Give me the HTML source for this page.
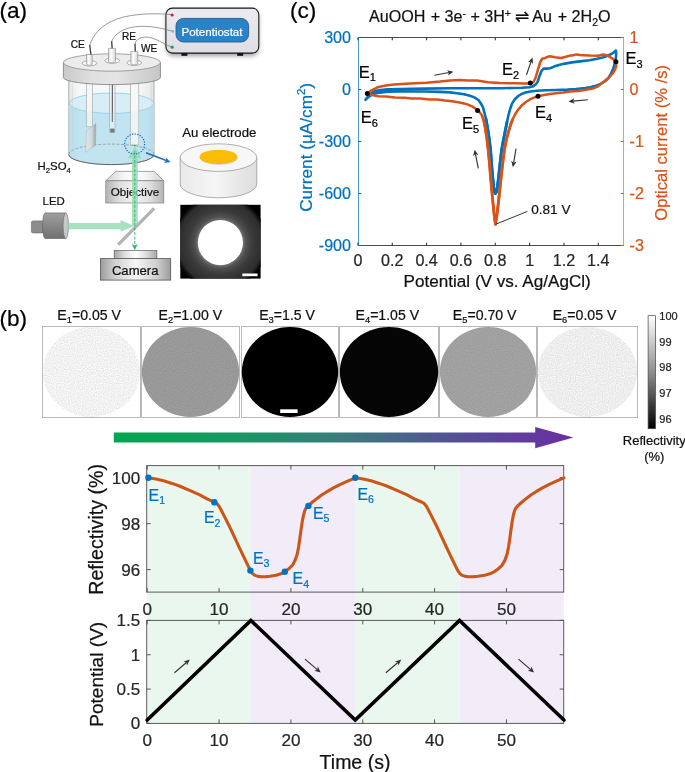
<!DOCTYPE html>
<html lang="en">
<head>
<meta charset="utf-8">
<title>Figure</title>
<style>
html,body{margin:0;padding:0;background:#fff;}
body{width:685px;height:772px;overflow:hidden;position:relative;}
svg{position:absolute;left:0;top:0;display:block;}
text{font-family:"Liberation Sans","DejaVu Sans",sans-serif;}
</style>
</head>
<body>
<svg width="685" height="772" viewBox="0 0 685 772">
<rect x="0" y="0" width="685" height="772" fill="#ffffff"/>
<g id="panel-a">
<defs>
<linearGradient id="lidSide" x1="0" y1="0" x2="1" y2="0"><stop offset="0" stop-color="#cacaca"/><stop offset="0.3" stop-color="#e0e0e0"/><stop offset="0.55" stop-color="#e4e4e4"/><stop offset="1" stop-color="#c6c6c6"/></linearGradient>
<linearGradient id="glass" x1="0" y1="0" x2="1" y2="0"><stop offset="0" stop-color="#e6e9ea"/><stop offset="0.12" stop-color="#f7f8f8"/><stop offset="0.85" stop-color="#f5f6f6"/><stop offset="1" stop-color="#e2e5e6"/></linearGradient>
<linearGradient id="water" x1="0" y1="0" x2="1" y2="0"><stop offset="0" stop-color="#b9deee"/><stop offset="0.15" stop-color="#c4e5f2"/><stop offset="0.85" stop-color="#c2e4f1"/><stop offset="1" stop-color="#b6dced"/></linearGradient>
<linearGradient id="tube" x1="0" y1="0" x2="1" y2="0"><stop offset="0" stop-color="#dcdcdc"/><stop offset="0.4" stop-color="#ffffff"/><stop offset="1" stop-color="#d2d2d2"/></linearGradient>
<linearGradient id="plate" x1="0" y1="0" x2="1" y2="0"><stop offset="0" stop-color="#e9e9e9"/><stop offset="0.6" stop-color="#d6d6d6"/><stop offset="1" stop-color="#969696"/></linearGradient>
<linearGradient id="potBox" x1="0" y1="0" x2="0" y2="1"><stop offset="0" stop-color="#ececf0"/><stop offset="1" stop-color="#dedee4"/></linearGradient>
<linearGradient id="objBody" x1="0" y1="0" x2="1" y2="0"><stop offset="0" stop-color="#b4b4b4"/><stop offset="0.22" stop-color="#dcdcdc"/><stop offset="0.5" stop-color="#f4f4f4"/><stop offset="0.78" stop-color="#dcdcdc"/><stop offset="1" stop-color="#b4b4b4"/></linearGradient>
<linearGradient id="objTop" x1="0" y1="0" x2="1" y2="0"><stop offset="0" stop-color="#d2d2d2"/><stop offset="0.3" stop-color="#f4f4f4"/><stop offset="0.5" stop-color="#ffffff"/><stop offset="0.7" stop-color="#f4f4f4"/><stop offset="1" stop-color="#d2d2d2"/></linearGradient>
<linearGradient id="camBody" x1="0" y1="0" x2="1" y2="0"><stop offset="0" stop-color="#9c9c9c"/><stop offset="0.2" stop-color="#cfcfcf"/><stop offset="0.5" stop-color="#f6f6f6"/><stop offset="0.8" stop-color="#cfcfcf"/><stop offset="1" stop-color="#9c9c9c"/></linearGradient>
<linearGradient id="camTop" x1="0" y1="0" x2="1" y2="0"><stop offset="0" stop-color="#a6a6a6"/><stop offset="0.25" stop-color="#dedede"/><stop offset="0.5" stop-color="#ffffff"/><stop offset="0.75" stop-color="#dedede"/><stop offset="1" stop-color="#a6a6a6"/></linearGradient>
<linearGradient id="ledBody" x1="0" y1="0" x2="0" y2="1"><stop offset="0" stop-color="#a0a0a0"/><stop offset="0.4" stop-color="#8c8c8c"/><stop offset="1" stop-color="#707070"/></linearGradient>
<linearGradient id="discSide" x1="0" y1="0" x2="1" y2="0"><stop offset="0" stop-color="#e9e9e9"/><stop offset="0.45" stop-color="#f6f6f6"/><stop offset="1" stop-color="#dddddd"/></linearGradient>
<radialGradient id="glow" cx="220.4" cy="242.6" r="47" gradientUnits="userSpaceOnUse"><stop offset="0" stop-color="#909090"/><stop offset="0.48" stop-color="#727272"/><stop offset="0.55" stop-color="#505050"/><stop offset="0.68" stop-color="#3b3b3b"/><stop offset="0.9" stop-color="#2c2c2c"/><stop offset="0.95" stop-color="#141414"/><stop offset="1" stop-color="#000000"/></radialGradient>
<filter id="blur1" x="-20%" y="-50%" width="140%" height="300%"><feGaussianBlur stdDeviation="1.6"/></filter>
<filter id="blur2" x="-20%" y="-30%" width="140%" height="160%"><feGaussianBlur stdDeviation="2.6"/></filter>
<filter id="blur05" x="-20%" y="-20%" width="140%" height="140%"><feGaussianBlur stdDeviation="0.5"/></filter>
<clipPath id="camclip"><rect x="180.3" y="204.8" width="80.3" height="73.8"/></clipPath>
</defs>
<text x="-0.5" y="18" font-size="22.6" fill="#000" stroke="#000" stroke-width="0.22">(a)</text>
<rect x="166.5" y="10.5" width="92" height="45.5" rx="7" fill="#000" opacity="0.38" filter="url(#blur2)"/>
<rect x="181.4" y="52.6" width="6" height="3.2" fill="#111"/>
<rect x="237.2" y="52.6" width="6" height="3.2" fill="#111"/>
<rect x="165.9" y="8.1" width="92.9" height="45" rx="6.5" fill="url(#potBox)" stroke="#161616" stroke-width="1.05"/>
<rect x="176.0" y="18.4" width="72.6" height="23.6" rx="7.5" fill="#2b83c6" stroke="#1d5f96" stroke-width="0.9"/>
<text x="212.0" y="35.9" font-size="11.55" fill="#ffffff" stroke="#ffffff" stroke-width="0.22" text-anchor="middle">Potentiostat</text>
<path d="M172,14.6 C150,12.6 125,14 110,22 C100,27.5 93,35 89.7,45.2" fill="none" stroke="#707070" stroke-width="0.7"/>
<path d="M172.7,31.4 C160,27.2 143,24.6 130.6,27.6 C120.5,30 113.4,35.5 111.7,41.6" fill="none" stroke="#707070" stroke-width="0.7"/>
<path d="M172.2,47.2 C166,45.5 160,40.5 152,38 C146,36.3 137,36.4 135,43.8" fill="none" stroke="#707070" stroke-width="0.7"/>
<circle cx="172.1" cy="15.1" r="1.5" fill="#ee1111"/>
<circle cx="172.7" cy="31.4" r="1.4" fill="#a8a8b0"/>
<circle cx="172.2" cy="47.2" r="1.6" fill="#11aa44"/>
<path d="M68.8,78 L68.8,154.5 A42.6,10.1 0 0 0 154.0,154.5 L154.0,78 Z" fill="url(#glass)" stroke="#9a9a9a" stroke-width="0.8"/>
<path d="M69.2,103.2 L69.2,154.5 A42.2,9.8 0 0 0 153.6,154.5 L153.6,103.2 A42.3,10.2 0 0 1 69.2,103.2 Z" fill="url(#water)"/>
<ellipse cx="111.6" cy="103.2" rx="42.0" ry="10.2" fill="#d9edf6" stroke="#86cbee" stroke-width="0.8"/>
<line x1="72.4" y1="84" x2="72.4" y2="152" stroke="#c9ced0" stroke-width="0.5"/>
<line x1="151.2" y1="84" x2="151.2" y2="152" stroke="#c9ced0" stroke-width="0.5"/>
<path d="M68.8,154.5 A42.6,10.4 0 0 1 154.0,154.5" fill="none" stroke="#7a7a7a" stroke-width="0.7" stroke-dasharray="3,1.6"/>
<rect x="109.7" y="80" width="5.3" height="52.6" fill="#f2f7fa" fill-opacity="0.7" stroke="#9a9a9a" stroke-width="0.6"/>
<line x1="112.3" y1="80" x2="112.3" y2="122" stroke="#333" stroke-width="0.9"/>
<rect x="110.2" y="128.6" width="4.3" height="4.0" rx="0.8" fill="#666"/>
<rect x="86.6" y="80" width="5.8" height="46.8" fill="#f6f6f6" stroke="#a0a0a0" stroke-width="0.6"/>
<path d="M95.9,123.5 L86.5,131.2 L85.6,152.4 L95.6,145.2 Z" fill="url(#plate)" stroke="#9a9a9a" stroke-width="0.4"/>
<rect x="130.6" y="80" width="8.2" height="64.9" fill="#f8f8f8" stroke="#a0a0a0" stroke-width="0.6"/>
<path d="M133.4,144.9 L136.0,144.9 L134.7,146.6 Z" fill="#555"/>
<path d="M69.2,103.2 L69.2,154.5 A42.2,9.8 0 0 0 153.6,154.5 L153.6,103.2 A42.3,10.2 0 0 1 69.2,103.2 Z" fill="#bfe1f1" fill-opacity="0.18"/>
<path d="M68.8,154.5 A42.6,10.1 0 0 0 154.0,154.5" fill="none" stroke="#4e4e4e" stroke-width="0.8"/>
<path d="M63.4,62.5 L63.4,77.6 A48.5,7.0 0 0 0 160.4,77.6 L160.4,62.5 Z" fill="url(#lidSide)" stroke="#7c7c7c" stroke-width="0.8"/>
<ellipse cx="111.9" cy="62.5" rx="48.5" ry="8.7" fill="#ececec" stroke="#8e8e8e" stroke-width="0.8"/>
<ellipse cx="89.5" cy="63.3" rx="7.3" ry="2.6" fill="#fbfbfb" stroke="#8c8c8c" stroke-width="0.7"/>
<path d="M86.5,54.5 L86.5,64.1 A2.85,1.2 0 0 0 92.2,64.1 L92.2,54.5 Z" fill="url(#tube)" stroke="#8c8c8c" stroke-width="0.6"/>
<ellipse cx="112.2" cy="60.7" rx="7.3" ry="2.6" fill="#fbfbfb" stroke="#8c8c8c" stroke-width="0.7"/>
<path d="M108.5,48.4 L108.5,61.5 A3.50,1.2 0 0 0 115.5,61.5 L115.5,48.4 Z" fill="url(#tube)" stroke="#8c8c8c" stroke-width="0.6"/>
<ellipse cx="134.3" cy="62.8" rx="7.3" ry="2.6" fill="#fbfbfb" stroke="#8c8c8c" stroke-width="0.7"/>
<path d="M130.8,51.4 L130.8,63.6 A3.50,1.2 0 0 0 137.8,63.6 L137.8,51.4 Z" fill="url(#tube)" stroke="#8c8c8c" stroke-width="0.6"/>
<line x1="89.7" y1="45.0" x2="90.9" y2="54.3" stroke="#3a3a3a" stroke-width="1.3"/>
<line x1="111.7" y1="41.2" x2="112.1" y2="48.4" stroke="#3a3a3a" stroke-width="1.3"/>
<line x1="135.0" y1="43.8" x2="135.3" y2="51.4" stroke="#3a3a3a" stroke-width="1.3"/>
<text x="70.8" y="48.2" font-size="10.1" fill="#111" stroke="#111" stroke-width="0.22">CE</text>
<text x="121.9" y="40.4" font-size="10.1" fill="#111" stroke="#111" stroke-width="0.22">RE</text>
<text x="141.0" y="51.7" font-size="10.1" fill="#111" stroke="#111" stroke-width="0.22">WE</text>
<text x="37.6" y="170.2" font-size="11.4" fill="#111" stroke="#111" stroke-width="0.22">H<tspan font-size="7.6" dy="2.6">2</tspan><tspan dy="-2.6">SO</tspan><tspan font-size="7.6" dy="2.6">4</tspan></text>
<path d="M115.7,171.4 L154.2,171.4 L163.8,180.8 L105.8,180.8 Z" fill="url(#objTop)" stroke="#808080" stroke-width="0.7"/>
<rect x="105.8" y="180.8" width="58.0" height="22.2" fill="url(#objBody)" stroke="#808080" stroke-width="0.7"/>
<text x="135" y="196.4" font-size="11.6" fill="#111" stroke="#111" stroke-width="0.22" text-anchor="middle">Objective</text>
<line x1="118.2" y1="244.6" x2="154.2" y2="208.4" stroke="#b3b3b3" stroke-width="3.2"/>
<rect x="114.2" y="250.5" width="42.7" height="8.4" fill="url(#camTop)" stroke="#5e5e5e" stroke-width="0.7"/>
<rect x="100.4" y="258.6" width="70.3" height="21.5" fill="url(#camBody)" stroke="#555555" stroke-width="0.8"/>
<text x="135.2" y="275.1" font-size="13.1" fill="#111" stroke="#111" stroke-width="0.22" text-anchor="middle">Camera</text>
<rect x="31.4" y="220.9" width="12.5" height="12" rx="1.6" fill="#8c8c8c" stroke="#6a6a6a" stroke-width="0.6"/>
<path d="M45.2,212.9 L65.8,212.9 L65.8,238.5 L45.2,238.5 A2.6,12.8 0 0 1 45.2,212.9 Z" fill="url(#ledBody)" stroke="#5a5a5a" stroke-width="0.6"/>
<ellipse cx="65.8" cy="225.7" rx="2.7" ry="12.8" fill="#c9c9c9" stroke="#6a6a6a" stroke-width="0.6"/>
<text x="42.6" y="204.8" font-size="11.4" fill="#111" stroke="#111" stroke-width="0.22">LED</text>
<g opacity="0.78">
<path d="M66.6,222.9 L120.5,222.9 L120.5,219.9 L134.3,225.9 L120.5,231.8 L120.5,229.2 L66.6,229.2 Z" fill="#8fd9b0"/>
<path d="M131.9,226.8 L131.9,158.2 L127.9,158.2 L134.8,146.3 L141.7,158.2 L137.8,158.2 L137.8,224.4 Z" fill="#8fd9b0"/>
</g>
<line x1="134.8" y1="151" x2="134.8" y2="246" stroke="#2fb36a" stroke-width="0.9" stroke-dasharray="3,1.5"/>
<path d="M132.3,244.4 L134.8,249.8 L137.3,244.4 L134.8,245.8 Z" fill="#2fb36a" stroke="#2fb36a" stroke-width="0.4"/>
<circle cx="134.6" cy="144.0" r="10.0" fill="none" stroke="#1f6fc0" stroke-width="1.2" stroke-dasharray="1.3,1.3"/>
<line x1="146.00" y1="152.80" x2="166.26" y2="160.62" stroke="#1f6fc0" stroke-width="1.60"/><path d="M170.60,162.30 L163.81,162.68 L166.26,160.62 L165.82,157.45 Z" fill="#1f6fc0"/>
<text x="219.3" y="137.0" font-size="13.2" fill="#111" stroke="#111" stroke-width="0.22" text-anchor="middle">Au electrode</text>
<path d="M180.2,157.6 L180.2,184 A38.3,13.8 0 0 0 256.8,184 L256.8,157.6 Z" fill="url(#discSide)" stroke="#8e8e8e" stroke-width="0.7"/>
<ellipse cx="218.5" cy="157.6" rx="38.3" ry="13.8" fill="#f7f7f7" stroke="#8e8e8e" stroke-width="0.7"/>
<ellipse cx="218.9" cy="157.6" rx="18.8" ry="7.2" fill="#000" opacity="0.18" filter="url(#blur05)"/>
<ellipse cx="218.4" cy="156.9" rx="18.8" ry="7.2" fill="#fbbc05"/>
<rect x="180.3" y="204.8" width="80.3" height="73.8" fill="#000"/>
<g clip-path="url(#camclip)"><circle cx="220.4" cy="242.6" r="47" fill="url(#glow)"/>
<circle cx="220.4" cy="242.6" r="22.6" fill="#ffffff" filter="url(#blur05)"/></g>
<rect x="242.3" y="273.5" width="15.3" height="2.7" fill="#ffffff"/>
</g>
<g id="panel-c">
<text x="290" y="17.5" font-size="22.6" fill="#000" stroke="#000" stroke-width="0.22">(c)</text>
<text x="369" y="22" font-size="16.1" fill="#111" stroke="#111" stroke-width="0.22">AuOOH<tspan dx="0.8"> + 3e</tspan><tspan font-size="10.5" dy="-5.5">-</tspan><tspan dy="5.5"> + 3H</tspan><tspan font-size="10.5" dy="-5.5">+</tspan><tspan dy="5.5" x="515.0" font-size="17.0">⇌</tspan><tspan x="532.2">Au</tspan><tspan dx="1.4"> + 2H</tspan><tspan font-size="10.5" dy="3.5">2</tspan><tspan dy="-3.5">O</tspan></text>
<line x1="358.50" y1="37.50" x2="623.50" y2="37.50" stroke="#4a4a4a" stroke-width="1"/>
<line x1="358.50" y1="245.50" x2="623.50" y2="245.50" stroke="#4a4a4a" stroke-width="1"/>
<line x1="358.50" y1="37.00" x2="358.50" y2="246.00" stroke="#0072BD" stroke-width="1" stroke-opacity="0.7"/>
<line x1="623.50" y1="37.00" x2="623.50" y2="246.00" stroke="#D95319" stroke-width="1" stroke-opacity="0.6"/>
<line x1="357.90" y1="245.50" x2="357.90" y2="242.70" stroke="#262626" stroke-width="1"/>
<line x1="357.90" y1="37.50" x2="357.90" y2="40.30" stroke="#262626" stroke-width="1"/>
<text x="357.90" y="265.8" font-size="16.1" fill="#262626" stroke="#262626" stroke-width="0.22" text-anchor="middle">0</text>
<line x1="392.24" y1="245.50" x2="392.24" y2="242.70" stroke="#262626" stroke-width="1"/>
<line x1="392.24" y1="37.50" x2="392.24" y2="40.30" stroke="#262626" stroke-width="1"/>
<text x="392.24" y="265.8" font-size="16.1" fill="#262626" stroke="#262626" stroke-width="0.22" text-anchor="middle">0.2</text>
<line x1="426.59" y1="245.50" x2="426.59" y2="242.70" stroke="#262626" stroke-width="1"/>
<line x1="426.59" y1="37.50" x2="426.59" y2="40.30" stroke="#262626" stroke-width="1"/>
<text x="426.59" y="265.8" font-size="16.1" fill="#262626" stroke="#262626" stroke-width="0.22" text-anchor="middle">0.4</text>
<line x1="460.93" y1="245.50" x2="460.93" y2="242.70" stroke="#262626" stroke-width="1"/>
<line x1="460.93" y1="37.50" x2="460.93" y2="40.30" stroke="#262626" stroke-width="1"/>
<text x="460.93" y="265.8" font-size="16.1" fill="#262626" stroke="#262626" stroke-width="0.22" text-anchor="middle">0.6</text>
<line x1="495.27" y1="245.50" x2="495.27" y2="242.70" stroke="#262626" stroke-width="1"/>
<line x1="495.27" y1="37.50" x2="495.27" y2="40.30" stroke="#262626" stroke-width="1"/>
<text x="495.27" y="265.8" font-size="16.1" fill="#262626" stroke="#262626" stroke-width="0.22" text-anchor="middle">0.8</text>
<line x1="529.61" y1="245.50" x2="529.61" y2="242.70" stroke="#262626" stroke-width="1"/>
<line x1="529.61" y1="37.50" x2="529.61" y2="40.30" stroke="#262626" stroke-width="1"/>
<text x="529.61" y="265.8" font-size="16.1" fill="#262626" stroke="#262626" stroke-width="0.22" text-anchor="middle">1</text>
<line x1="563.96" y1="245.50" x2="563.96" y2="242.70" stroke="#262626" stroke-width="1"/>
<line x1="563.96" y1="37.50" x2="563.96" y2="40.30" stroke="#262626" stroke-width="1"/>
<text x="563.96" y="265.8" font-size="16.1" fill="#262626" stroke="#262626" stroke-width="0.22" text-anchor="middle">1.2</text>
<line x1="598.30" y1="245.50" x2="598.30" y2="242.70" stroke="#262626" stroke-width="1"/>
<line x1="598.30" y1="37.50" x2="598.30" y2="40.30" stroke="#262626" stroke-width="1"/>
<text x="598.30" y="265.8" font-size="16.1" fill="#262626" stroke="#262626" stroke-width="0.22" text-anchor="middle">1.4</text>
<line x1="358.50" y1="37.50" x2="361.30" y2="37.50" stroke="#0072BD" stroke-width="1"/>
<text x="351" y="43.10" font-size="16.1" fill="#0072BD" stroke="#0072BD" stroke-width="0.22" text-anchor="end">300</text>
<line x1="358.50" y1="89.50" x2="361.30" y2="89.50" stroke="#0072BD" stroke-width="1"/>
<text x="351" y="95.10" font-size="16.1" fill="#0072BD" stroke="#0072BD" stroke-width="0.22" text-anchor="end">0</text>
<line x1="358.50" y1="141.50" x2="361.30" y2="141.50" stroke="#0072BD" stroke-width="1"/>
<text x="351" y="147.10" font-size="16.1" fill="#0072BD" stroke="#0072BD" stroke-width="0.22" text-anchor="end">-300</text>
<line x1="358.50" y1="193.50" x2="361.30" y2="193.50" stroke="#0072BD" stroke-width="1"/>
<text x="351" y="199.10" font-size="16.1" fill="#0072BD" stroke="#0072BD" stroke-width="0.22" text-anchor="end">-600</text>
<line x1="358.50" y1="245.50" x2="361.30" y2="245.50" stroke="#0072BD" stroke-width="1"/>
<text x="351" y="251.10" font-size="16.1" fill="#0072BD" stroke="#0072BD" stroke-width="0.22" text-anchor="end">-900</text>
<line x1="623.50" y1="37.50" x2="620.70" y2="37.50" stroke="#D95319" stroke-width="1"/>
<text x="629.6" y="43.10" font-size="16.1" fill="#D95319" stroke="#D95319" stroke-width="0.22">1</text>
<line x1="623.50" y1="89.50" x2="620.70" y2="89.50" stroke="#D95319" stroke-width="1"/>
<text x="629.6" y="95.10" font-size="16.1" fill="#D95319" stroke="#D95319" stroke-width="0.22">0</text>
<line x1="623.50" y1="141.50" x2="620.70" y2="141.50" stroke="#D95319" stroke-width="1"/>
<text x="629.6" y="147.10" font-size="16.1" fill="#D95319" stroke="#D95319" stroke-width="0.22">-1</text>
<line x1="623.50" y1="193.50" x2="620.70" y2="193.50" stroke="#D95319" stroke-width="1"/>
<text x="629.6" y="199.10" font-size="16.1" fill="#D95319" stroke="#D95319" stroke-width="0.22">-2</text>
<line x1="623.50" y1="245.50" x2="620.70" y2="245.50" stroke="#D95319" stroke-width="1"/>
<text x="629.6" y="251.10" font-size="16.1" fill="#D95319" stroke="#D95319" stroke-width="0.22">-3</text>
<text x="497.2" y="286.7" font-size="17.1" fill="#111" stroke="#111" stroke-width="0.22" text-anchor="middle">Potential (V vs. Ag/AgCl)</text>
<text transform="translate(311.6,147.4) rotate(-90)" font-size="17.2" fill="#0072BD" stroke="#0072BD" stroke-width="0.22" text-anchor="middle">Current (μA/cm<tspan font-size="11.4" dy="-6.2">2</tspan><tspan dy="6.2">)</tspan></text>
<text transform="translate(666.9,142.8) rotate(-90)" font-size="16.6" fill="#D95319" stroke="#D95319" stroke-width="0.22" text-anchor="middle">Optical current (% /s)</text>
<path d="M365.50,99.80 L366.80,98.00 L368.40,96.20 L369.90,94.60 L372.00,92.80 L375.00,91.00 L380.00,90.00 L388.00,89.30 L400.00,88.95 L425.00,88.65 L450.00,88.30 L480.00,88.30 L500.00,88.20 L512.80,88.00 L522.00,87.80 L529.60,87.30 L532.50,86.60 L534.70,85.20 L536.40,83.60 L537.70,81.60 L539.00,77.50 L540.10,74.50 L541.20,71.60 L542.50,69.70 L543.80,68.60 L547.00,68.60 L550.00,68.20 L554.00,66.60 L558.80,65.00 L565.00,63.60 L572.00,62.40 L580.00,61.40 L589.50,60.20 L596.00,58.90 L602.60,57.40 L607.00,55.90 L611.40,54.00 L613.80,52.40 L615.90,50.60 L616.20,53.50 L616.00,57.00 L615.20,61.50 L614.30,65.20 L612.80,69.80 L611.00,73.60 L608.40,78.00 L604.80,81.50 L600.50,84.00 L596.00,85.80 L590.00,87.20 L585.10,88.00 L576.00,89.00 L567.60,89.60 L556.00,90.00 L545.70,90.30 L537.00,90.80 L530.40,91.50 L525.60,92.60 L521.60,94.00 L518.00,96.20 L515.00,99.00 L512.00,103.60 L510.20,108.80 L508.50,115.00 L507.00,122.00 L505.20,131.00 L503.40,140.00 L501.60,150.00 L500.00,164.00 L498.60,177.00 L497.40,187.00 L496.40,192.00 L495.40,193.60 L494.50,192.00 L493.70,187.00 L492.70,177.00 L491.60,164.00 L490.60,150.00 L489.00,137.00 L487.60,128.00 L486.00,119.00 L484.40,112.60 L483.00,107.40 L481.00,103.60 L478.40,100.00 L474.80,97.60 L470.00,95.80 L463.90,94.20 L457.00,93.20 L450.00,92.40 L440.00,91.90 L425.00,91.50 L400.00,91.50 L388.00,91.80 L380.00,92.60 L375.00,93.60 L371.00,95.20 L368.00,97.40 L365.50,99.80" fill="none" stroke="#0072BD" stroke-width="2.60" stroke-linejoin="round" stroke-linecap="round"/>
<path d="M507.00,122.00 L505.20,131.00 L503.40,140.00 L501.60,150.00 L500.00,164.00 L498.60,177.00 L497.40,187.00 L496.40,192.00 L495.40,193.60 L494.50,192.00 L493.70,187.00 L492.70,177.00 L491.60,164.00 L490.60,150.00 L489.00,137.00 L487.60,128.00 L486.00,119.00" fill="none" stroke="#0072BD" stroke-width="2.90" stroke-linejoin="round" stroke-linecap="round"/>
<path d="M367.50,93.50 L371.50,90.30 L378.50,86.90 L386.00,85.40 L393.80,84.60 L410.00,83.60 L426.60,82.70 L440.00,81.60 L450.00,80.40 L459.50,79.90 L468.00,80.60 L477.00,80.40 L488.00,82.20 L500.00,83.00 L515.00,83.30 L525.00,83.60 L530.40,83.40 L533.50,82.00 L535.50,78.00 L538.00,69.40 L540.30,62.00 L542.40,58.50 L545.00,58.20 L547.00,57.00 L550.00,56.30 L555.00,57.20 L561.00,58.00 L565.00,57.00 L569.80,55.60 L573.00,55.40 L576.30,54.40 L580.00,55.00 L582.90,55.20 L590.00,55.60 L598.20,55.80 L603.00,54.60 L607.40,55.40 L610.50,57.40 L613.40,59.20 L615.30,61.20 L616.10,64.00 L616.10,66.50 L615.20,69.20 L613.80,71.80 L612.20,74.00 L609.80,76.60 L607.20,79.00 L604.00,81.60 L601.00,83.60 L598.00,86.30 L593.90,88.20 L586.00,89.80 L578.50,91.00 L570.00,91.60 L563.20,92.60 L556.00,93.20 L550.00,94.00 L544.00,95.00 L538.00,96.20 L534.00,97.60 L530.40,99.20 L526.00,102.00 L521.60,105.60 L518.00,109.80 L515.00,114.50 L512.60,119.50 L510.60,124.80 L508.40,132.00 L506.30,140.00 L504.40,150.00 L502.60,164.00 L500.60,182.00 L498.60,201.00 L496.80,216.00 L495.50,224.40 L494.30,216.00 L492.80,201.00 L491.00,182.00 L489.50,164.00 L488.20,150.00 L486.80,138.00 L485.30,128.00 L483.80,121.00 L482.00,115.50 L480.00,112.60 L478.00,110.60 L475.00,108.20 L472.60,106.60 L468.00,104.60 L464.00,103.40 L459.50,102.40 L452.00,101.20 L445.00,100.60 L437.60,99.60 L430.00,99.40 L420.00,98.40 L412.00,98.40 L404.70,97.80 L395.00,97.40 L386.00,96.60 L378.50,96.20 L373.00,95.20 L367.50,93.50" fill="none" stroke="#D95319" stroke-width="2.55" stroke-linejoin="round" stroke-linecap="round"/>
<path d="M512.60,119.50 L510.60,124.80 L508.40,132.00 L506.30,140.00 L504.40,150.00 L502.60,164.00 L500.60,182.00 L498.60,201.00 L496.80,216.00 L495.50,224.40 L494.30,216.00 L492.80,201.00 L491.00,182.00 L489.50,164.00 L488.20,150.00 L486.80,138.00 L485.30,128.00 L483.80,121.00" fill="none" stroke="#D95319" stroke-width="2.80" stroke-linejoin="round" stroke-linecap="round"/>
<circle cx="367.30" cy="93.40" r="2.5" fill="#000"/>
<circle cx="530.30" cy="83.00" r="2.5" fill="#000"/>
<circle cx="615.90" cy="61.80" r="2.5" fill="#000"/>
<circle cx="538.00" cy="96.20" r="2.5" fill="#000"/>
<circle cx="477.60" cy="110.40" r="2.5" fill="#000"/>
<text x="358.80" y="77.60" font-size="16.5" fill="#000" stroke="#000" stroke-width="0.22">E<tspan font-size="11.0" dy="3.6">1</tspan></text>
<text x="360.80" y="123.40" font-size="16.5" fill="#000" stroke="#000" stroke-width="0.22">E<tspan font-size="11.0" dy="3.6">6</tspan></text>
<text x="462.00" y="129.00" font-size="16.5" fill="#000" stroke="#000" stroke-width="0.22">E<tspan font-size="11.0" dy="3.6">5</tspan></text>
<text x="502.00" y="75.20" font-size="16.5" fill="#000" stroke="#000" stroke-width="0.22">E<tspan font-size="11.0" dy="3.6">2</tspan></text>
<text x="535.00" y="118.40" font-size="16.5" fill="#000" stroke="#000" stroke-width="0.22">E<tspan font-size="11.0" dy="3.6">4</tspan></text>
<text x="625.50" y="64.00" font-size="16.5" fill="#000" stroke="#000" stroke-width="0.22">E<tspan font-size="11.0" dy="3.6">3</tspan></text>
<line x1="434.30" y1="75.30" x2="448.98" y2="72.53" stroke="#333" stroke-width="1.15"/><path d="M453.40,71.70 L448.00,75.46 L448.98,72.53 L447.00,70.16 Z" fill="#333"/>
<line x1="526.50" y1="74.80" x2="531.03" y2="61.65" stroke="#333" stroke-width="1.15"/><path d="M532.50,57.40 L533.10,63.95 L531.03,61.65 L527.99,62.19 Z" fill="#333"/>
<line x1="587.80" y1="99.80" x2="572.98" y2="101.18" stroke="#333" stroke-width="1.15"/><path d="M568.50,101.60 L574.22,98.35 L572.98,101.18 L574.72,103.73 Z" fill="#333"/>
<line x1="478.30" y1="168.30" x2="475.48" y2="154.11" stroke="#333" stroke-width="1.15"/><path d="M474.60,149.70 L478.42,155.06 L475.48,154.11 L473.12,156.11 Z" fill="#333"/>
<line x1="516.00" y1="148.60" x2="513.64" y2="162.76" stroke="#333" stroke-width="1.15"/><path d="M512.90,167.20 L511.22,160.84 L513.64,162.76 L516.55,161.73 Z" fill="#333"/>
<line x1="495.8" y1="224.2" x2="527.4" y2="211.4" stroke="#333" stroke-width="1"/>
<text x="531.2" y="214.4" font-size="13.6" fill="#111" stroke="#111" stroke-width="0.22">0.81 V</text>
</g>
<g id="panel-b">
<defs>
<filter id="noiseL" x="0" y="0" width="100%" height="100%" color-interpolation-filters="sRGB"><feTurbulence type="fractalNoise" baseFrequency="0.95" numOctaves="1" seed="7" result="n"/><feColorMatrix in="n" type="matrix" values="0 0 0 0 0.5  0 0 0 0 0.5  0 0 0 0 0.5  0 0 0 0 1" result="g0"/><feColorMatrix in="n" type="matrix" values="1.2 0 0 0 -0.1  1.2 0 0 0 -0.1  1.2 0 0 0 -0.1  0 0 0 0 0.09" result="g"/><feComposite in="g" in2="SourceGraphic" operator="in" result="m"/><feMerge><feMergeNode in="SourceGraphic"/><feMergeNode in="m"/></feMerge></filter>
<filter id="noiseW" x="0" y="0" width="100%" height="100%" color-interpolation-filters="sRGB"><feTurbulence type="fractalNoise" baseFrequency="0.85" numOctaves="1" seed="11" result="n"/><feColorMatrix in="n" type="matrix" values="1.9 0 0 0 -0.45  1.9 0 0 0 -0.45  1.9 0 0 0 -0.45  0 0 0 0 0.10" result="g"/><feComposite in="g" in2="SourceGraphic" operator="in" result="m"/><feMerge><feMergeNode in="SourceGraphic"/><feMergeNode in="m"/></feMerge></filter>
<linearGradient id="garrow" x1="0" y1="0" x2="1" y2="0"><stop offset="0" stop-color="#00a84f"/><stop offset="0.25" stop-color="#149a62"/><stop offset="0.5" stop-color="#3c7a7c"/><stop offset="0.75" stop-color="#554f96"/><stop offset="1" stop-color="#6a2ea2"/></linearGradient>
<linearGradient id="cbar" x1="0" y1="0" x2="0" y2="1"><stop offset="0" stop-color="#ffffff"/><stop offset="0.5" stop-color="#8e8e8e"/><stop offset="1" stop-color="#000000"/></linearGradient>
</defs>
<text x="-0.5" y="325.5" font-size="22.6" fill="#000" stroke="#000" stroke-width="0.22">(b)</text>
<rect x="42.50" y="326.50" width="98.00" height="91.00" fill="#ffffff" stroke="#b9b9b9" stroke-width="1"/>
<ellipse cx="91.50" cy="372.00" rx="48.65" ry="45.00" fill="#ffffff" filter="url(#noiseW)"/>
<text x="57.30" y="320.2" font-size="14.1" fill="#111" stroke="#111" stroke-width="0.22">E<tspan font-size="9.4" dy="2.8">1</tspan><tspan dy="-2.8">=0.05 V</tspan></text>
<rect x="141.50" y="326.50" width="98.00" height="91.00" fill="#ffffff" stroke="#b9b9b9" stroke-width="1"/>
<ellipse cx="190.50" cy="372.00" rx="48.65" ry="45.00" fill="#9b9b9b" filter="url(#noiseL)"/>
<text x="158.50" y="320.2" font-size="14.1" fill="#111" stroke="#111" stroke-width="0.22">E<tspan font-size="9.4" dy="2.8">2</tspan><tspan dy="-2.8">=1.00 V</tspan></text>
<rect x="241.50" y="326.50" width="97.00" height="91.00" fill="#ffffff" stroke="#b9b9b9" stroke-width="1"/>
<ellipse cx="290.00" cy="372.00" rx="48.15" ry="45.00" fill="#000000"/>
<text x="259.20" y="320.2" font-size="14.1" fill="#111" stroke="#111" stroke-width="0.22">E<tspan font-size="9.4" dy="2.8">3</tspan><tspan dy="-2.8">=1.5 V</tspan></text>
<rect x="339.50" y="326.50" width="99.00" height="91.00" fill="#ffffff" stroke="#b9b9b9" stroke-width="1"/>
<ellipse cx="389.00" cy="372.00" rx="49.15" ry="45.00" fill="#050505"/>
<text x="355.50" y="320.2" font-size="14.1" fill="#111" stroke="#111" stroke-width="0.22">E<tspan font-size="9.4" dy="2.8">4</tspan><tspan dy="-2.8">=1.05 V</tspan></text>
<rect x="439.50" y="326.50" width="97.00" height="91.00" fill="#ffffff" stroke="#b9b9b9" stroke-width="1"/>
<ellipse cx="488.00" cy="372.00" rx="48.15" ry="45.00" fill="#a4a4a4" filter="url(#noiseL)"/>
<text x="452.80" y="320.2" font-size="14.1" fill="#111" stroke="#111" stroke-width="0.22">E<tspan font-size="9.4" dy="2.8">5</tspan><tspan dy="-2.8">=0.70 V</tspan></text>
<rect x="537.50" y="326.50" width="100.00" height="91.00" fill="#ffffff" stroke="#b9b9b9" stroke-width="1"/>
<ellipse cx="587.50" cy="372.00" rx="49.65" ry="45.00" fill="#fbfbfb" filter="url(#noiseW)"/>
<text x="552.70" y="320.2" font-size="14.1" fill="#111" stroke="#111" stroke-width="0.22">E<tspan font-size="9.4" dy="2.8">6</tspan><tspan dy="-2.8">=0.05 V</tspan></text>
<rect x="280.2" y="409.3" width="17.4" height="3.7" fill="#ffffff"/>
<path d="M113.8,432.6 L535.2,432.6 L535.2,426.9 L573.4,437.6 L535.2,448.3 L535.2,442.6 L113.8,442.6 Z" fill="url(#garrow)"/>
<rect x="648.1" y="315.7" width="7.4" height="113.0" fill="url(#cbar)" stroke="#444" stroke-width="0.7"/>
<text x="659.3" y="320.30" font-size="11" fill="#222" stroke="#222" stroke-width="0.22">100</text>
<text x="659.3" y="345.85" font-size="11" fill="#222" stroke="#222" stroke-width="0.22">99</text>
<text x="659.3" y="371.40" font-size="11" fill="#222" stroke="#222" stroke-width="0.22">98</text>
<text x="659.3" y="396.95" font-size="11" fill="#222" stroke="#222" stroke-width="0.22">97</text>
<text x="659.3" y="422.50" font-size="11" fill="#222" stroke="#222" stroke-width="0.22">96</text>
<text x="654.3" y="445.2" font-size="13" fill="#111" stroke="#111" stroke-width="0.22" text-anchor="middle">Reflectivity</text>
<text x="654.3" y="460.8" font-size="13" fill="#111" stroke="#111" stroke-width="0.22" text-anchor="middle">(%)</text>
<rect x="147.20" y="465.60" width="103.68" height="257.80" fill="#e9f7ef"/>
<rect x="250.88" y="465.60" width="104.33" height="257.80" fill="#f1ecf8"/>
<rect x="355.21" y="465.60" width="104.33" height="257.80" fill="#e9f7ef"/>
<rect x="459.53" y="465.60" width="104.17" height="257.80" fill="#f1ecf8"/>
<rect x="146.70" y="465.60" width="417.00" height="126.50" fill="none" stroke="#5a5a5a" stroke-width="1"/>
<line x1="147.20" y1="592.10" x2="147.20" y2="588.10" stroke="#555" stroke-width="1"/>
<line x1="147.20" y1="465.60" x2="147.20" y2="469.60" stroke="#555" stroke-width="1"/>
<line x1="219.05" y1="592.10" x2="219.05" y2="588.10" stroke="#555" stroke-width="1"/>
<line x1="219.05" y1="465.60" x2="219.05" y2="469.60" stroke="#555" stroke-width="1"/>
<line x1="290.90" y1="592.10" x2="290.90" y2="588.10" stroke="#555" stroke-width="1"/>
<line x1="290.90" y1="465.60" x2="290.90" y2="469.60" stroke="#555" stroke-width="1"/>
<line x1="362.75" y1="592.10" x2="362.75" y2="588.10" stroke="#555" stroke-width="1"/>
<line x1="362.75" y1="465.60" x2="362.75" y2="469.60" stroke="#555" stroke-width="1"/>
<line x1="434.60" y1="592.10" x2="434.60" y2="588.10" stroke="#555" stroke-width="1"/>
<line x1="434.60" y1="465.60" x2="434.60" y2="469.60" stroke="#555" stroke-width="1"/>
<line x1="506.45" y1="592.10" x2="506.45" y2="588.10" stroke="#555" stroke-width="1"/>
<line x1="506.45" y1="465.60" x2="506.45" y2="469.60" stroke="#555" stroke-width="1"/>
<rect x="146.70" y="620.40" width="417.00" height="103.00" fill="none" stroke="#5a5a5a" stroke-width="1"/>
<line x1="147.20" y1="723.40" x2="147.20" y2="719.40" stroke="#555" stroke-width="1"/>
<line x1="147.20" y1="620.40" x2="147.20" y2="624.40" stroke="#555" stroke-width="1"/>
<line x1="219.05" y1="723.40" x2="219.05" y2="719.40" stroke="#555" stroke-width="1"/>
<line x1="219.05" y1="620.40" x2="219.05" y2="624.40" stroke="#555" stroke-width="1"/>
<line x1="290.90" y1="723.40" x2="290.90" y2="719.40" stroke="#555" stroke-width="1"/>
<line x1="290.90" y1="620.40" x2="290.90" y2="624.40" stroke="#555" stroke-width="1"/>
<line x1="362.75" y1="723.40" x2="362.75" y2="719.40" stroke="#555" stroke-width="1"/>
<line x1="362.75" y1="620.40" x2="362.75" y2="624.40" stroke="#555" stroke-width="1"/>
<line x1="434.60" y1="723.40" x2="434.60" y2="719.40" stroke="#555" stroke-width="1"/>
<line x1="434.60" y1="620.40" x2="434.60" y2="624.40" stroke="#555" stroke-width="1"/>
<line x1="506.45" y1="723.40" x2="506.45" y2="719.40" stroke="#555" stroke-width="1"/>
<line x1="506.45" y1="620.40" x2="506.45" y2="624.40" stroke="#555" stroke-width="1"/>
<line x1="146.70" y1="477.70" x2="150.70" y2="477.70" stroke="#555" stroke-width="1"/>
<line x1="563.70" y1="477.70" x2="559.70" y2="477.70" stroke="#555" stroke-width="1"/>
<text x="140.3" y="483.70" font-size="17.1" fill="#262626" stroke="#262626" stroke-width="0.22" text-anchor="end">100</text>
<line x1="146.70" y1="523.65" x2="150.70" y2="523.65" stroke="#555" stroke-width="1"/>
<line x1="563.70" y1="523.65" x2="559.70" y2="523.65" stroke="#555" stroke-width="1"/>
<text x="140.3" y="529.65" font-size="17.1" fill="#262626" stroke="#262626" stroke-width="0.22" text-anchor="end">98</text>
<line x1="146.70" y1="569.60" x2="150.70" y2="569.60" stroke="#555" stroke-width="1"/>
<line x1="563.70" y1="569.60" x2="559.70" y2="569.60" stroke="#555" stroke-width="1"/>
<text x="140.3" y="575.60" font-size="17.1" fill="#262626" stroke="#262626" stroke-width="0.22" text-anchor="end">96</text>
<line x1="146.70" y1="620.40" x2="150.70" y2="620.40" stroke="#555" stroke-width="1"/>
<line x1="563.70" y1="620.40" x2="559.70" y2="620.40" stroke="#555" stroke-width="1"/>
<text x="140.3" y="626.40" font-size="17.1" fill="#262626" stroke="#262626" stroke-width="0.22" text-anchor="end">1.5</text>
<line x1="146.70" y1="654.73" x2="150.70" y2="654.73" stroke="#555" stroke-width="1"/>
<line x1="563.70" y1="654.73" x2="559.70" y2="654.73" stroke="#555" stroke-width="1"/>
<text x="140.3" y="660.73" font-size="17.1" fill="#262626" stroke="#262626" stroke-width="0.22" text-anchor="end">1</text>
<line x1="146.70" y1="689.07" x2="150.70" y2="689.07" stroke="#555" stroke-width="1"/>
<line x1="563.70" y1="689.07" x2="559.70" y2="689.07" stroke="#555" stroke-width="1"/>
<text x="140.3" y="695.07" font-size="17.1" fill="#262626" stroke="#262626" stroke-width="0.22" text-anchor="end">0.5</text>
<line x1="146.70" y1="723.40" x2="150.70" y2="723.40" stroke="#555" stroke-width="1"/>
<line x1="563.70" y1="723.40" x2="559.70" y2="723.40" stroke="#555" stroke-width="1"/>
<text x="140.3" y="729.40" font-size="17.1" fill="#262626" stroke="#262626" stroke-width="0.22" text-anchor="end">0</text>
<text x="147.20" y="614.7" font-size="17.1" fill="#262626" stroke="#262626" stroke-width="0.22" text-anchor="middle">0</text>
<text x="147.20" y="746.3" font-size="17.1" fill="#262626" stroke="#262626" stroke-width="0.22" text-anchor="middle">0</text>
<text x="219.05" y="614.7" font-size="17.1" fill="#262626" stroke="#262626" stroke-width="0.22" text-anchor="middle">10</text>
<text x="219.05" y="746.3" font-size="17.1" fill="#262626" stroke="#262626" stroke-width="0.22" text-anchor="middle">10</text>
<text x="290.90" y="614.7" font-size="17.1" fill="#262626" stroke="#262626" stroke-width="0.22" text-anchor="middle">20</text>
<text x="290.90" y="746.3" font-size="17.1" fill="#262626" stroke="#262626" stroke-width="0.22" text-anchor="middle">20</text>
<text x="362.75" y="614.7" font-size="17.1" fill="#262626" stroke="#262626" stroke-width="0.22" text-anchor="middle">30</text>
<text x="362.75" y="746.3" font-size="17.1" fill="#262626" stroke="#262626" stroke-width="0.22" text-anchor="middle">30</text>
<text x="434.60" y="614.7" font-size="17.1" fill="#262626" stroke="#262626" stroke-width="0.22" text-anchor="middle">40</text>
<text x="434.60" y="746.3" font-size="17.1" fill="#262626" stroke="#262626" stroke-width="0.22" text-anchor="middle">40</text>
<text x="506.45" y="614.7" font-size="17.1" fill="#262626" stroke="#262626" stroke-width="0.22" text-anchor="middle">50</text>
<text x="506.45" y="746.3" font-size="17.1" fill="#262626" stroke="#262626" stroke-width="0.22" text-anchor="middle">50</text>
<text x="355.0" y="769.0" font-size="19.5" fill="#111" stroke="#111" stroke-width="0.22" text-anchor="middle">Time (s)</text>
<text transform="translate(103.3,529.4) rotate(-90)" font-size="19.6" fill="#111" stroke="#111" stroke-width="0.22" text-anchor="middle">Reflectivity (%)</text>
<text transform="translate(102.8,674.3) rotate(-90)" font-size="19.1" fill="#111" stroke="#111" stroke-width="0.22" text-anchor="middle">Potential (V)</text>
<path d="M148.00,477.80 L156.00,479.00 L164.50,481.00 L172.00,483.40 L179.40,486.00 L189.00,490.20 L199.30,494.70 L207.00,498.80 L214.20,502.00 L216.80,503.40 L219.10,506.20 L224.00,515.60 L229.10,525.70 L234.00,536.20 L239.00,546.80 L244.60,558.60 L250.20,570.20 L252.40,573.40 L255.10,575.40 L258.00,576.40 L261.30,576.80 L266.00,576.60 L270.00,576.20 L276.00,575.20 L281.00,573.80 L284.80,571.80 L288.60,569.00 L292.30,565.40 L295.00,560.60 L297.20,554.30 L298.60,547.00 L299.70,539.40 L301.00,530.00 L302.20,522.00 L303.40,515.60 L304.70,510.80 L306.20,507.80 L308.40,505.70 L312.50,502.00 L317.10,498.40 L322.00,494.80 L327.00,491.70 L333.00,488.20 L339.40,484.80 L347.00,481.40 L355.30,477.80 L363.30,479.00 L371.80,481.00 L379.30,483.40 L386.70,486.00 L396.30,490.20 L406.60,494.70 L414.30,498.80 L421.50,502.00 L424.10,503.40 L426.40,506.20 L431.30,515.60 L436.40,525.70 L441.30,536.20 L446.30,546.80 L451.90,558.60 L457.50,570.20 L459.70,573.40 L462.40,575.40 L465.30,576.40 L468.60,576.80 L473.65,576.60 L478.00,576.20 L484.53,575.20 L489.97,573.80 L494.10,571.80 L498.08,569.00 L501.95,565.40 L504.77,560.60 L507.07,554.30 L508.54,547.00 L509.69,539.40 L510.96,530.00 L512.11,522.00 L513.26,515.60 L514.51,510.80 L515.95,507.80 L518.06,505.70 L522.00,502.00 L526.42,498.40 L531.17,494.80 L536.08,491.70 L541.98,488.20 L548.28,484.80 L555.75,481.40 L563.91,477.80" fill="none" stroke="#CC561A" stroke-width="3.1" stroke-linejoin="round" stroke-linecap="round"/>
<circle cx="148.40" cy="477.80" r="3.2" fill="#0072BD"/>
<circle cx="214.30" cy="502.20" r="3.2" fill="#0072BD"/>
<circle cx="250.40" cy="570.60" r="3.2" fill="#0072BD"/>
<circle cx="284.80" cy="571.70" r="3.2" fill="#0072BD"/>
<circle cx="308.40" cy="505.90" r="3.2" fill="#0072BD"/>
<circle cx="355.30" cy="477.80" r="3.2" fill="#0072BD"/>
<text x="148.60" y="501.00" font-size="15.8" fill="#0072BD" stroke="#0072BD" stroke-width="0.22">E<tspan font-size="10.6" dy="3.3">1</tspan></text>
<text x="204.00" y="523.20" font-size="15.8" fill="#0072BD" stroke="#0072BD" stroke-width="0.22">E<tspan font-size="10.6" dy="3.3">2</tspan></text>
<text x="253.00" y="563.60" font-size="15.8" fill="#0072BD" stroke="#0072BD" stroke-width="0.22">E<tspan font-size="10.6" dy="3.3">3</tspan></text>
<text x="292.60" y="584.20" font-size="15.8" fill="#0072BD" stroke="#0072BD" stroke-width="0.22">E<tspan font-size="10.6" dy="3.3">4</tspan></text>
<text x="313.00" y="518.60" font-size="15.8" fill="#0072BD" stroke="#0072BD" stroke-width="0.22">E<tspan font-size="10.6" dy="3.3">5</tspan></text>
<text x="357.40" y="499.80" font-size="15.8" fill="#0072BD" stroke="#0072BD" stroke-width="0.22">E<tspan font-size="10.6" dy="3.3">6</tspan></text>
<path d="M147.20,719.97 L250.88,620.40 L355.21,719.97 L459.53,620.40 L563.93,719.97" fill="none" stroke="#000" stroke-width="3.6" stroke-linejoin="miter" stroke-linecap="round"/>
<line x1="174.50" y1="672.70" x2="186.38" y2="662.53" stroke="#333" stroke-width="1.15"/><path d="M189.80,659.60 L187.00,665.55 L186.38,662.53 L183.49,661.45 Z" fill="#333"/>
<line x1="305.00" y1="659.10" x2="317.28" y2="669.58" stroke="#333" stroke-width="1.15"/><path d="M320.70,672.50 L314.38,670.66 L317.28,669.58 L317.89,666.55 Z" fill="#333"/>
<line x1="385.90" y1="672.70" x2="397.87" y2="662.52" stroke="#333" stroke-width="1.15"/><path d="M401.30,659.60 L398.48,665.54 L397.87,662.52 L394.98,661.43 Z" fill="#333"/>
<line x1="518.50" y1="659.10" x2="530.69" y2="669.57" stroke="#333" stroke-width="1.15"/><path d="M534.10,672.50 L527.79,670.64 L530.69,669.57 L531.31,666.54 Z" fill="#333"/>
</g>
</svg>
</body>
</html>
